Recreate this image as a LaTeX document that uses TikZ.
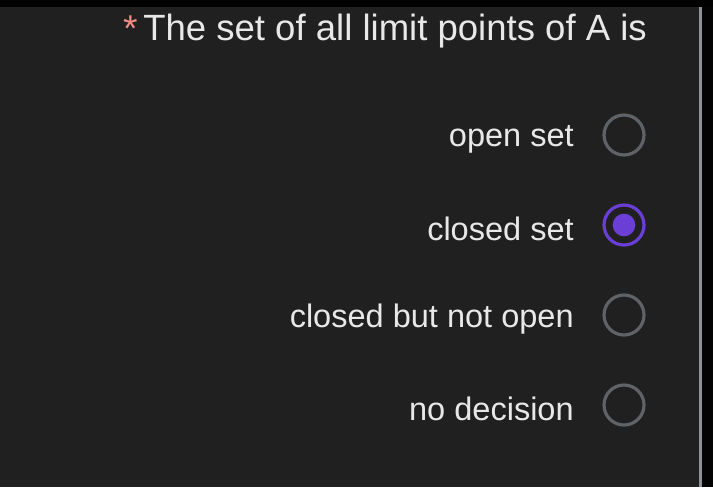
\documentclass[tikz,border=0pt]{standalone}
\usepackage{fontspec}
\setmainfont{Liberation Sans}
\definecolor{bgdark}{HTML}{202020}
\definecolor{txtlight}{HTML}{E8E8E8}
\definecolor{ringgray}{HTML}{5F6368}
\definecolor{pickviolet}{HTML}{6B3FD6}
\definecolor{starred}{HTML}{F28B82}
\begin{document}
\begin{tikzpicture}[x=0.75pt,y=-0.75pt]
\tikzstyle{optlabel}=[anchor=east, inner sep=0pt, text=txtlight, font=\fontsize{24.4}{28}\selectfont]
\tikzstyle{radio}=[circle, draw=ringgray, line width=2.4pt, minimum size=30pt, inner sep=0pt]
\tikzstyle{radiosel}=[circle, draw=pickviolet, line width=2.4pt, minimum size=30pt, inner sep=0pt]

\fill[bgdark] (0,0) rectangle (713,487);
\fill[black] (0,0) rectangle (713,7);
\fill[ringgray!70] (699,7) rectangle (702,487);
\fill[black!90!bgdark] (702,7) rectangle (713,487);

\node[inner sep=0pt, anchor=east, text=starred, font=\fontsize{28}{30}\selectfont] (star) at (138,29) {*};
\node[inner sep=0pt, anchor=west, text=txtlight, font=\fontsize{27.4}{32}\selectfont] (title) at (143,31) {The set of all limit points of A is};

\node[optlabel] (L1) at (574,139) {open set};
\node[optlabel] (L2) at (574,229) {closed set};
\node[optlabel] (L3) at (574,319) {closed but not open};
\node[optlabel] (L4) at (574,409) {no decision};

\node[radio] (R1) at (624,135) {};
\node[radiosel] (R2) at (624,225) {};
\fill[pickviolet] (R2.center) circle (8.5pt);
\node[radio] (R3) at (624,315) {};
\node[radio] (R4) at (624,405) {};
\end{tikzpicture}
\end{document}
